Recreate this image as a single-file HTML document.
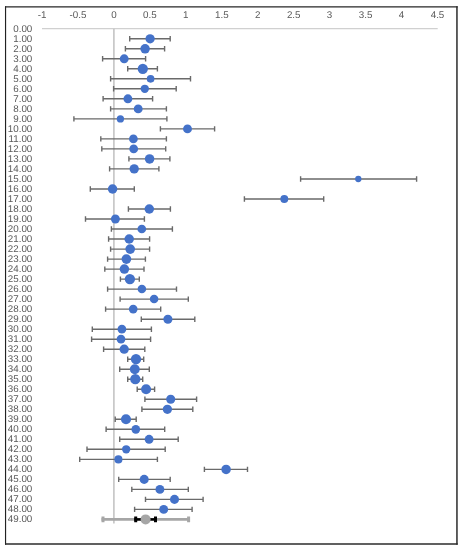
<!DOCTYPE html>
<html><head><meta charset="utf-8"><title>Forest plot</title>
<style>html,body{margin:0;padding:0;background:#fff}svg{display:block}text{text-rendering:geometricPrecision;font-family:"Liberation Sans",sans-serif;font-size:9.8px;fill:#595959}</style></head>
<body>
<svg width="462" height="550" viewBox="0 0 462 550">
<rect x="0" y="0" width="462" height="550" fill="#fff"/>
<path d="M5.55 6.2V544.7" stroke="#222" stroke-width="1.15" fill="none"/><path d="M5 6.9H457.7" stroke="#262626" stroke-width="1.4" fill="none"/><path d="M456.95 6.2V544.7" stroke="#2b2b2b" stroke-width="1.5" fill="none"/><path d="M5 543.95H457.7" stroke="#2b2b2b" stroke-width="1.5" fill="none"/>
<line x1="42" y1="28.6" x2="437.7" y2="28.6" stroke="#d0d0d0" stroke-width="1.4"/>
<line x1="113.9" y1="28.75" x2="113.9" y2="523.6" stroke="#c0c0c0" stroke-width="1.5"/>
<text x="42.0" y="18" text-anchor="middle">-1</text>
<text x="78.0" y="18" text-anchor="middle">-0.5</text>
<text x="113.9" y="18" text-anchor="middle">0</text>
<text x="149.9" y="18" text-anchor="middle">0.5</text>
<text x="185.8" y="18" text-anchor="middle">1</text>
<text x="221.8" y="18" text-anchor="middle">1.5</text>
<text x="257.7" y="18" text-anchor="middle">2</text>
<text x="293.7" y="18" text-anchor="middle">2.5</text>
<text x="329.6" y="18" text-anchor="middle">3</text>
<text x="365.6" y="18" text-anchor="middle">3.5</text>
<text x="401.5" y="18" text-anchor="middle">4</text>
<text x="437.5" y="18" text-anchor="middle">4.5</text>
<text x="32.3" y="31.60" text-anchor="end">0.00</text>
<text x="32.3" y="41.61" text-anchor="end">1.00</text>
<text x="32.3" y="51.63" text-anchor="end">2.00</text>
<text x="32.3" y="61.64" text-anchor="end">3.00</text>
<text x="32.3" y="71.66" text-anchor="end">4.00</text>
<text x="32.3" y="81.67" text-anchor="end">5.00</text>
<text x="32.3" y="91.68" text-anchor="end">6.00</text>
<text x="32.3" y="101.70" text-anchor="end">7.00</text>
<text x="32.3" y="111.71" text-anchor="end">8.00</text>
<text x="32.3" y="121.73" text-anchor="end">9.00</text>
<text x="32.3" y="131.74" text-anchor="end">10.00</text>
<text x="32.3" y="141.75" text-anchor="end">11.00</text>
<text x="32.3" y="151.77" text-anchor="end">12.00</text>
<text x="32.3" y="161.78" text-anchor="end">13.00</text>
<text x="32.3" y="171.80" text-anchor="end">14.00</text>
<text x="32.3" y="181.81" text-anchor="end">15.00</text>
<text x="32.3" y="191.82" text-anchor="end">16.00</text>
<text x="32.3" y="201.84" text-anchor="end">17.00</text>
<text x="32.3" y="211.85" text-anchor="end">18.00</text>
<text x="32.3" y="221.87" text-anchor="end">19.00</text>
<text x="32.3" y="231.88" text-anchor="end">20.00</text>
<text x="32.3" y="241.89" text-anchor="end">21.00</text>
<text x="32.3" y="251.91" text-anchor="end">22.00</text>
<text x="32.3" y="261.92" text-anchor="end">23.00</text>
<text x="32.3" y="271.94" text-anchor="end">24.00</text>
<text x="32.3" y="281.95" text-anchor="end">25.00</text>
<text x="32.3" y="291.96" text-anchor="end">26.00</text>
<text x="32.3" y="301.98" text-anchor="end">27.00</text>
<text x="32.3" y="311.99" text-anchor="end">28.00</text>
<text x="32.3" y="322.01" text-anchor="end">29.00</text>
<text x="32.3" y="332.02" text-anchor="end">30.00</text>
<text x="32.3" y="342.03" text-anchor="end">31.00</text>
<text x="32.3" y="352.05" text-anchor="end">32.00</text>
<text x="32.3" y="362.06" text-anchor="end">33.00</text>
<text x="32.3" y="372.08" text-anchor="end">34.00</text>
<text x="32.3" y="382.09" text-anchor="end">35.00</text>
<text x="32.3" y="392.10" text-anchor="end">36.00</text>
<text x="32.3" y="402.12" text-anchor="end">37.00</text>
<text x="32.3" y="412.13" text-anchor="end">38.00</text>
<text x="32.3" y="422.15" text-anchor="end">39.00</text>
<text x="32.3" y="432.16" text-anchor="end">40.00</text>
<text x="32.3" y="442.17" text-anchor="end">41.00</text>
<text x="32.3" y="452.19" text-anchor="end">42.00</text>
<text x="32.3" y="462.20" text-anchor="end">43.00</text>
<text x="32.3" y="472.22" text-anchor="end">44.00</text>
<text x="32.3" y="482.23" text-anchor="end">45.00</text>
<text x="32.3" y="492.24" text-anchor="end">46.00</text>
<text x="32.3" y="502.26" text-anchor="end">47.00</text>
<text x="32.3" y="512.27" text-anchor="end">48.00</text>
<text x="32.3" y="522.29" text-anchor="end">49.00</text>
<path d="M129.7 38.8H170.2M129.7 36.1v5.4M170.2 36.1v5.4" stroke="#6a6a6a" stroke-width="1.4" fill="none"/><circle cx="150.1" cy="38.8" r="4.65" fill="#4472c9"/>
<path d="M125.4 48.8H164.6M125.4 46.1v5.4M164.6 46.1v5.4" stroke="#6a6a6a" stroke-width="1.4" fill="none"/><circle cx="145.1" cy="48.8" r="4.75" fill="#4472c9"/>
<path d="M102.6 58.8H145.6M102.6 56.1v5.4M145.6 56.1v5.4" stroke="#6a6a6a" stroke-width="1.4" fill="none"/><circle cx="124.2" cy="58.8" r="4.45" fill="#4472c9"/>
<path d="M127.7 68.8H157.4M127.7 66.1v5.4M157.4 66.1v5.4" stroke="#6a6a6a" stroke-width="1.4" fill="none"/><circle cx="142.8" cy="68.8" r="5.15" fill="#4472c9"/>
<path d="M110.6 78.8H190.5M110.6 76.1v5.4M190.5 76.1v5.4" stroke="#6a6a6a" stroke-width="1.4" fill="none"/><circle cx="150.6" cy="78.8" r="3.85" fill="#4472c9"/>
<path d="M113.6 88.8H176.2M113.6 86.1v5.4M176.2 86.1v5.4" stroke="#6a6a6a" stroke-width="1.4" fill="none"/><circle cx="144.8" cy="88.8" r="4.15" fill="#4472c9"/>
<path d="M103.1 98.8H152.6M103.1 96.1v5.4M152.6 96.1v5.4" stroke="#6a6a6a" stroke-width="1.4" fill="none"/><circle cx="127.9" cy="98.8" r="4.45" fill="#4472c9"/>
<path d="M110.6 108.9H166.4M110.6 106.2v5.4M166.4 106.2v5.4" stroke="#6a6a6a" stroke-width="1.4" fill="none"/><circle cx="138.2" cy="108.9" r="4.45" fill="#4472c9"/>
<path d="M73.9 118.9H166.9M73.9 116.2v5.4M166.9 116.2v5.4" stroke="#6a6a6a" stroke-width="1.4" fill="none"/><circle cx="120.4" cy="118.9" r="3.65" fill="#4472c9"/>
<path d="M160.4 128.9H214.6M160.4 126.2v5.4M214.6 126.2v5.4" stroke="#6a6a6a" stroke-width="1.4" fill="none"/><circle cx="187.5" cy="128.9" r="4.45" fill="#4472c9"/>
<path d="M100.8 138.9H166.4M100.8 136.2v5.4M166.4 136.2v5.4" stroke="#6a6a6a" stroke-width="1.4" fill="none"/><circle cx="133.4" cy="138.9" r="4.35" fill="#4472c9"/>
<path d="M101.8 148.9H165.7M101.8 146.2v5.4M165.7 146.2v5.4" stroke="#6a6a6a" stroke-width="1.4" fill="none"/><circle cx="133.7" cy="148.9" r="4.35" fill="#4472c9"/>
<path d="M128.9 158.9H169.9M128.9 156.2v5.4M169.9 156.2v5.4" stroke="#6a6a6a" stroke-width="1.4" fill="none"/><circle cx="149.6" cy="158.9" r="4.75" fill="#4472c9"/>
<path d="M109.6 168.9H158.9M109.6 166.2v5.4M158.9 166.2v5.4" stroke="#6a6a6a" stroke-width="1.4" fill="none"/><circle cx="134.2" cy="168.9" r="4.65" fill="#4472c9"/>
<path d="M300.6 179.0H416.6M300.6 176.3v5.4M416.6 176.3v5.4" stroke="#6a6a6a" stroke-width="1.4" fill="none"/><circle cx="358.3" cy="179.0" r="3.15" fill="#4472c9"/>
<path d="M90.3 189.0H134.3M90.3 186.3v5.4M134.3 186.3v5.4" stroke="#6a6a6a" stroke-width="1.4" fill="none"/><circle cx="112.6" cy="189.0" r="4.75" fill="#4472c9"/>
<path d="M244.4 199.0H323.7M244.4 196.3v5.4M323.7 196.3v5.4" stroke="#6a6a6a" stroke-width="1.4" fill="none"/><circle cx="284.3" cy="199.0" r="3.95" fill="#4472c9"/>
<path d="M128.4 209.0H170.4M128.4 206.3v5.4M170.4 206.3v5.4" stroke="#6a6a6a" stroke-width="1.4" fill="none"/><circle cx="149.3" cy="209.0" r="4.75" fill="#4472c9"/>
<path d="M85.5 219.0H144.4M85.5 216.3v5.4M144.4 216.3v5.4" stroke="#6a6a6a" stroke-width="1.4" fill="none"/><circle cx="115.4" cy="219.0" r="4.45" fill="#4472c9"/>
<path d="M111.4 229.0H172.4M111.4 226.3v5.4M172.4 226.3v5.4" stroke="#6a6a6a" stroke-width="1.4" fill="none"/><circle cx="141.8" cy="229.0" r="4.35" fill="#4472c9"/>
<path d="M108.6 239.0H149.6M108.6 236.3v5.4M149.6 236.3v5.4" stroke="#6a6a6a" stroke-width="1.4" fill="none"/><circle cx="129.2" cy="239.0" r="4.75" fill="#4472c9"/>
<path d="M110.6 249.1H149.6M110.6 246.4v5.4M149.6 246.4v5.4" stroke="#6a6a6a" stroke-width="1.4" fill="none"/><circle cx="130.2" cy="249.1" r="4.85" fill="#4472c9"/>
<path d="M107.6 259.1H145.4M107.6 256.4v5.4M145.4 256.4v5.4" stroke="#6a6a6a" stroke-width="1.4" fill="none"/><circle cx="126.4" cy="259.1" r="4.85" fill="#4472c9"/>
<path d="M104.8 269.1H144.0M104.8 266.4v5.4M144.0 266.4v5.4" stroke="#6a6a6a" stroke-width="1.4" fill="none"/><circle cx="124.4" cy="269.1" r="4.75" fill="#4472c9"/>
<path d="M120.4 279.1H139.3M120.4 276.4v5.4M139.3 276.4v5.4" stroke="#6a6a6a" stroke-width="1.4" fill="none"/><circle cx="129.9" cy="279.1" r="5.15" fill="#4472c9"/>
<path d="M107.6 289.1H176.5M107.6 286.4v5.4M176.5 286.4v5.4" stroke="#6a6a6a" stroke-width="1.4" fill="none"/><circle cx="141.9" cy="289.1" r="4.25" fill="#4472c9"/>
<path d="M120.1 299.1H188.3M120.1 296.4v5.4M188.3 296.4v5.4" stroke="#6a6a6a" stroke-width="1.4" fill="none"/><circle cx="154.1" cy="299.1" r="4.25" fill="#4472c9"/>
<path d="M105.6 309.1H160.7M105.6 306.4v5.4M160.7 306.4v5.4" stroke="#6a6a6a" stroke-width="1.4" fill="none"/><circle cx="133.2" cy="309.1" r="4.35" fill="#4472c9"/>
<path d="M141.3 319.2H194.8M141.3 316.5v5.4M194.8 316.5v5.4" stroke="#6a6a6a" stroke-width="1.4" fill="none"/><circle cx="167.9" cy="319.2" r="4.55" fill="#4472c9"/>
<path d="M92.3 329.2H151.4M92.3 326.5v5.4M151.4 326.5v5.4" stroke="#6a6a6a" stroke-width="1.4" fill="none"/><circle cx="121.9" cy="329.2" r="4.35" fill="#4472c9"/>
<path d="M91.6 339.2H150.6M91.6 336.5v5.4M150.6 336.5v5.4" stroke="#6a6a6a" stroke-width="1.4" fill="none"/><circle cx="121.0" cy="339.2" r="4.35" fill="#4472c9"/>
<path d="M103.6 349.2H144.8M103.6 346.5v5.4M144.8 346.5v5.4" stroke="#6a6a6a" stroke-width="1.4" fill="none"/><circle cx="124.2" cy="349.2" r="4.65" fill="#4472c9"/>
<path d="M127.7 359.2H143.7M127.7 356.5v5.4M143.7 356.5v5.4" stroke="#6a6a6a" stroke-width="1.4" fill="none"/><circle cx="136.0" cy="359.2" r="5.15" fill="#4472c9"/>
<path d="M119.7 369.2H149.3M119.7 366.5v5.4M149.3 366.5v5.4" stroke="#6a6a6a" stroke-width="1.4" fill="none"/><circle cx="134.8" cy="369.2" r="4.95" fill="#4472c9"/>
<path d="M127.7 379.2H142.7M127.7 376.5v5.4M142.7 376.5v5.4" stroke="#6a6a6a" stroke-width="1.4" fill="none"/><circle cx="135.3" cy="379.2" r="5.15" fill="#4472c9"/>
<path d="M137.2 389.3H154.6M137.2 386.6v5.4M154.6 386.6v5.4" stroke="#6a6a6a" stroke-width="1.4" fill="none"/><circle cx="146.1" cy="389.3" r="5.05" fill="#4472c9"/>
<path d="M144.9 399.3H196.6M144.9 396.6v5.4M196.6 396.6v5.4" stroke="#6a6a6a" stroke-width="1.4" fill="none"/><circle cx="170.7" cy="399.3" r="4.55" fill="#4472c9"/>
<path d="M141.9 409.3H192.8M141.9 406.6v5.4M192.8 406.6v5.4" stroke="#6a6a6a" stroke-width="1.4" fill="none"/><circle cx="167.4" cy="409.3" r="4.65" fill="#4472c9"/>
<path d="M115.2 419.3H136.2M115.2 416.6v5.4M136.2 416.6v5.4" stroke="#6a6a6a" stroke-width="1.4" fill="none"/><circle cx="126.0" cy="419.3" r="5.05" fill="#4472c9"/>
<path d="M106.1 429.3H164.7M106.1 426.6v5.4M164.7 426.6v5.4" stroke="#6a6a6a" stroke-width="1.4" fill="none"/><circle cx="135.8" cy="429.3" r="4.35" fill="#4472c9"/>
<path d="M119.7 439.3H178.2M119.7 436.6v5.4M178.2 436.6v5.4" stroke="#6a6a6a" stroke-width="1.4" fill="none"/><circle cx="149.1" cy="439.3" r="4.45" fill="#4472c9"/>
<path d="M87.0 449.3H165.2M87.0 446.6v5.4M165.2 446.6v5.4" stroke="#6a6a6a" stroke-width="1.4" fill="none"/><circle cx="126.2" cy="449.3" r="4.15" fill="#4472c9"/>
<path d="M79.7 459.4H157.4M79.7 456.7v5.4M157.4 456.7v5.4" stroke="#6a6a6a" stroke-width="1.4" fill="none"/><circle cx="118.4" cy="459.4" r="4.05" fill="#4472c9"/>
<path d="M204.4 469.4H247.5M204.4 466.7v5.4M247.5 466.7v5.4" stroke="#6a6a6a" stroke-width="1.4" fill="none"/><circle cx="226.1" cy="469.4" r="4.75" fill="#4472c9"/>
<path d="M118.7 479.4H170.2M118.7 476.7v5.4M170.2 476.7v5.4" stroke="#6a6a6a" stroke-width="1.4" fill="none"/><circle cx="144.2" cy="479.4" r="4.55" fill="#4472c9"/>
<path d="M131.8 489.4H188.3M131.8 486.7v5.4M188.3 486.7v5.4" stroke="#6a6a6a" stroke-width="1.4" fill="none"/><circle cx="159.9" cy="489.4" r="4.45" fill="#4472c9"/>
<path d="M145.5 499.4H203.1M145.5 496.7v5.4M203.1 496.7v5.4" stroke="#6a6a6a" stroke-width="1.4" fill="none"/><circle cx="174.5" cy="499.4" r="4.55" fill="#4472c9"/>
<path d="M134.6 509.4H192.1M134.6 506.7v5.4M192.1 506.7v5.4" stroke="#6a6a6a" stroke-width="1.4" fill="none"/><circle cx="163.7" cy="509.4" r="4.45" fill="#4472c9"/>
<path d="M101.5 519.4H190" stroke="#a6a6a6" stroke-width="2.7" fill="none"/><path d="M103 516.6v5.6M188.6 516.6v5.6" stroke="#a6a6a6" stroke-width="3" fill="none"/>
<path d="M134.3 519.4H157" stroke="#000" stroke-width="2.5" fill="none"/><path d="M135.7 516.6v5.6M155.5 516.6v5.6" stroke="#000" stroke-width="3" fill="none"/>
<circle cx="145.6" cy="519.4" r="5" fill="#a6a6a6"/>
</svg>
</body></html>
